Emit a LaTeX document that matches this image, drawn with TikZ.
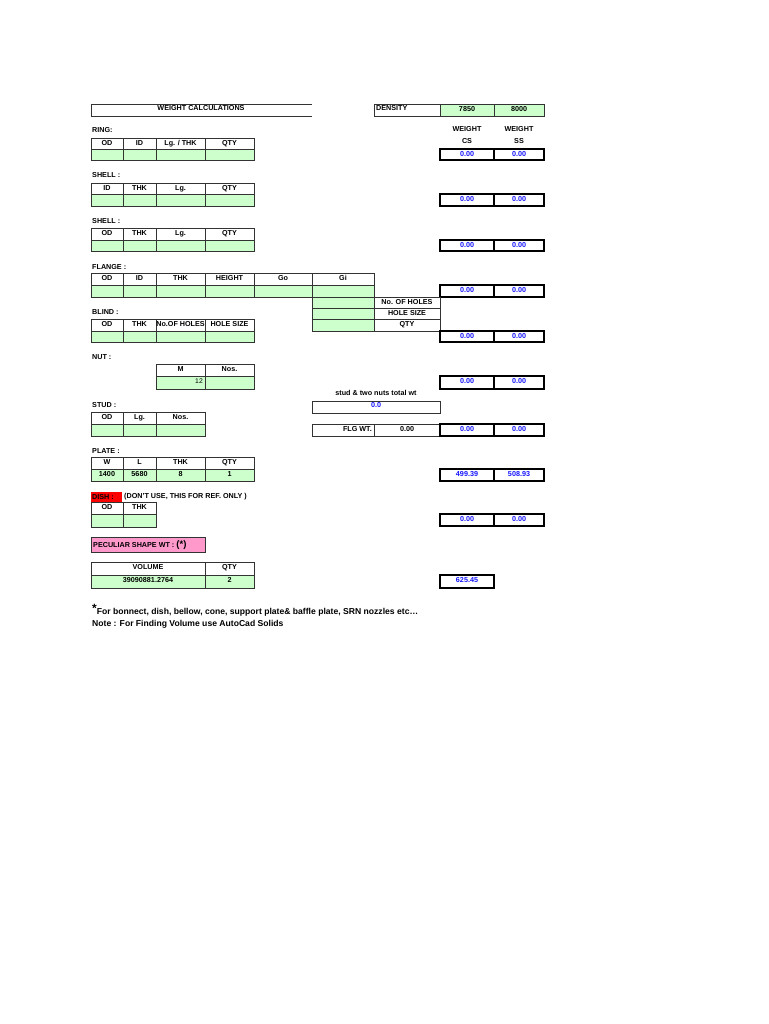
\documentclass[tikz,border=0pt]{standalone}
\usepackage{fontspec}
\setmainfont{Liberation Sans}
\begin{document}
\begin{tikzpicture}[x=1pt,y=-1pt,font=\bfseries\fontsize{7.2}{7.5}\selectfont]
\definecolor{gr}{RGB}{204,255,204}
\definecolor{bl}{RGB}{20,20,255}
\definecolor{pk}{RGB}{255,153,204}
\tikzset{cell/.style={draw=black!80,line width=0.6pt},
 gcell/.style={cell,fill=gr},
 res/.style={draw=black,line width=1.2pt},
 lbl/.style={anchor=west,inner sep=0pt},
 ctr/.style={inner sep=0pt,anchor=north},
 blu/.style={ctr,text=bl}}
\useasboundingbox (0,0) rectangle (768,1024);
\newcommand\hrow[4]{\foreach \a/\b [count=\i] in {#4} {\draw[#3] (\a,#1) rectangle (\b,#2);}}
\newcommand\ctxt[4]{\node[ctr] at ({(#1+#2)/2},#3+2) {#4};}
\newcommand\resbox[4]{\draw[res] (440,#1) rectangle (494,#2); \draw[res] (494,#1) rectangle (544,#2);
 \node[blu] at (467,#1+2) {#3}; \node[blu] at (519,#1+2) {#4};}
% title
\draw[cell] (312,104) -- (91,104) -- (91,116) -- (312,116);
\node[ctr] (title) at (201,105.5) {WEIGHT CALCULATIONS};
\draw[cell] (374,104) rectangle (440,116); \node[lbl,anchor=north west] at (376,105.5) {DENSITY};
\draw[gcell] (440,104) rectangle (494,116); \draw[gcell] (494,104) rectangle (544,116);
\ctxt{440}{494}{104}{7850} \ctxt{494}{544}{104}{8000}
\node[ctr] at (467,126) {WEIGHT}; \node[ctr] at (519,126) {WEIGHT};
\node[ctr] at (467,138) {CS}; \node[ctr] at (519,138) {SS};
% RING
\node[lbl] at (92,130) {RING:};
\hrow{138}{149}{cell}{91/123,123/156,156/205,205/254}
\hrow{149}{160}{gcell}{91/123,123/156,156/205,205/254}
\ctxt{91}{123}{138}{OD}\ctxt{123}{156}{138}{ID}\ctxt{156}{205}{138}{Lg. / THK}\ctxt{205}{254}{138}{QTY}
\resbox{149}{160}{0.00}{0.00}
% SHELL 1
\node[lbl] at (92,175) {SHELL :};
\hrow{183}{194}{cell}{91/123,123/156,156/205,205/254}
\hrow{194}{206}{gcell}{91/123,123/156,156/205,205/254}
\ctxt{91}{123}{183}{ID}\ctxt{123}{156}{183}{THK}\ctxt{156}{205}{183}{Lg.}\ctxt{205}{254}{183}{QTY}
\resbox{194}{206}{0.00}{0.00}
% SHELL 2
\node[lbl] at (92,221) {SHELL :};
\hrow{228}{240}{cell}{91/123,123/156,156/205,205/254}
\hrow{240}{251}{gcell}{91/123,123/156,156/205,205/254}
\ctxt{91}{123}{228}{OD}\ctxt{123}{156}{228}{THK}\ctxt{156}{205}{228}{Lg.}\ctxt{205}{254}{228}{QTY}
\resbox{240}{251}{0.00}{0.00}
% FLANGE
\node[lbl] at (92,267) {FLANGE :};
\hrow{273}{285}{cell}{91/123,123/156,156/205,205/254,254/312,312/374}
\hrow{285}{297}{gcell}{91/123,123/156,156/205,205/254,254/312,312/374}
\ctxt{91}{123}{273}{OD}\ctxt{123}{156}{273}{ID}\ctxt{156}{205}{273}{THK}\ctxt{205}{254}{273}{HEIGHT}\ctxt{254}{312}{273}{Go}\ctxt{312}{374}{273}{Gi}
\resbox{285}{297}{0.00}{0.00}
\draw[gcell] (312,297) rectangle (374,308); \draw[gcell] (312,308) rectangle (374,319); \draw[gcell] (312,319) rectangle (374,331);
\draw[cell] (374,297) rectangle (440,308); \draw[cell] (374,308) rectangle (440,319); \draw[cell] (374,319) rectangle (440,331);
\ctxt{374}{440}{297}{No. OF HOLES}\ctxt{374}{440}{308}{HOLE SIZE}\ctxt{374}{440}{319}{QTY}
% BLIND
\node[lbl] at (92,312) {BLIND :};
\hrow{319}{331}{cell}{91/123,123/156,156/205,205/254}
\hrow{331}{342}{gcell}{91/123,123/156,156/205,205/254}
\ctxt{91}{123}{319}{OD}\ctxt{123}{156}{319}{THK}
\begin{scope}\clip (156,319) rectangle (205,331); \node[ctr] at (180.5,321) {No.OF HOLES};\end{scope}
\ctxt{205}{254}{319}{HOLE SIZE}
\resbox{331}{342}{0.00}{0.00}
% NUT
\node[lbl] at (92,357) {NUT :};
\hrow{364}{376}{cell}{156/205,205/254}
\hrow{376}{389}{gcell}{156/205,205/254}
\ctxt{156}{205}{364}{M}\ctxt{205}{254}{364}{Nos.}
\node[inner sep=0pt,anchor=north east,font=\fontsize{6.8}{7}\selectfont] at (203,379) {12};
\resbox{376}{389}{0.00}{0.00}
\node[ctr] at (376,390) {stud \& two nuts total wt};
\draw[cell] (312,401) rectangle (440,413); \node[blu] at (376,402) {0.0};
% STUD
\node[lbl] at (92,405) {STUD :};
\hrow{412}{424}{cell}{91/123,123/156,156/205}
\hrow{424}{436}{gcell}{91/123,123/156,156/205}
\ctxt{91}{123}{412}{OD}\ctxt{123}{156}{412}{Lg.}\ctxt{156}{205}{412}{Nos.}
\draw[cell] (312,424) rectangle (374,436); \draw[cell] (374,424) rectangle (440,436);
\node[inner sep=0pt,anchor=north east] at (372,426) {FLG WT.};
\ctxt{374}{440}{424}{0.00}
\resbox{424}{436}{0.00}{0.00}
% PLATE
\node[lbl] at (92,451) {PLATE :};
\hrow{457}{469}{cell}{91/123,123/156,156/205,205/254}
\hrow{469}{481}{gcell}{91/123,123/156,156/205,205/254}
\ctxt{91}{123}{457}{W}\ctxt{123}{156}{457}{L}\ctxt{156}{205}{457}{THK}\ctxt{205}{254}{457}{QTY}
\ctxt{91}{123}{469}{1400}\ctxt{123}{156}{469}{5680}\ctxt{156}{205}{469}{8}\ctxt{205}{254}{469}{1}
\resbox{469}{481}{499.39}{508.93}
% DISH
\fill[red] (91,492) rectangle (122,502);
\node[lbl] at (92,497) {DISH :};
\node[lbl] at (124,497) {(DON'T USE, THIS FOR REF. ONLY )};
\hrow{502}{514}{cell}{91/123,123/156}
\hrow{514}{527}{gcell}{91/123,123/156}
\ctxt{91}{123}{502}{OD}\ctxt{123}{156}{502}{THK}
\resbox{514}{526}{0.00}{0.00}
% PECULIAR
\draw[cell,fill=pk] (91,537) rectangle (205,552);
\node[lbl] at (93,545) {PECULIAR SHAPE WT : {\fontsize{9.5}{9.5}\selectfont(*)}};
\hrow{562}{575}{cell}{91/205,205/254}
\hrow{575}{588}{gcell}{91/205,205/254}
\ctxt{91}{205}{562}{VOLUME}\ctxt{205}{254}{562}{QTY}
\ctxt{91}{205}{575}{39090881.2764}\ctxt{205}{254}{575}{2}
\draw[res] (440,575) rectangle (494,588); \node[blu] at (467,577) {625.45};
% footnotes
\node[lbl,font=\bfseries\fontsize{8.6}{9}\selectfont] at (92,610) {\raisebox{2pt}{\fontsize{12}{12}\selectfont*}For bonnect, dish, bellow, cone, support plate\& baffle plate, SRN nozzles etc\dots};
\node[lbl,font=\bfseries\fontsize{8.6}{9}\selectfont] at (92,624) {Note : For Finding Volume use AutoCad Solids};
\end{tikzpicture}
\end{document}
